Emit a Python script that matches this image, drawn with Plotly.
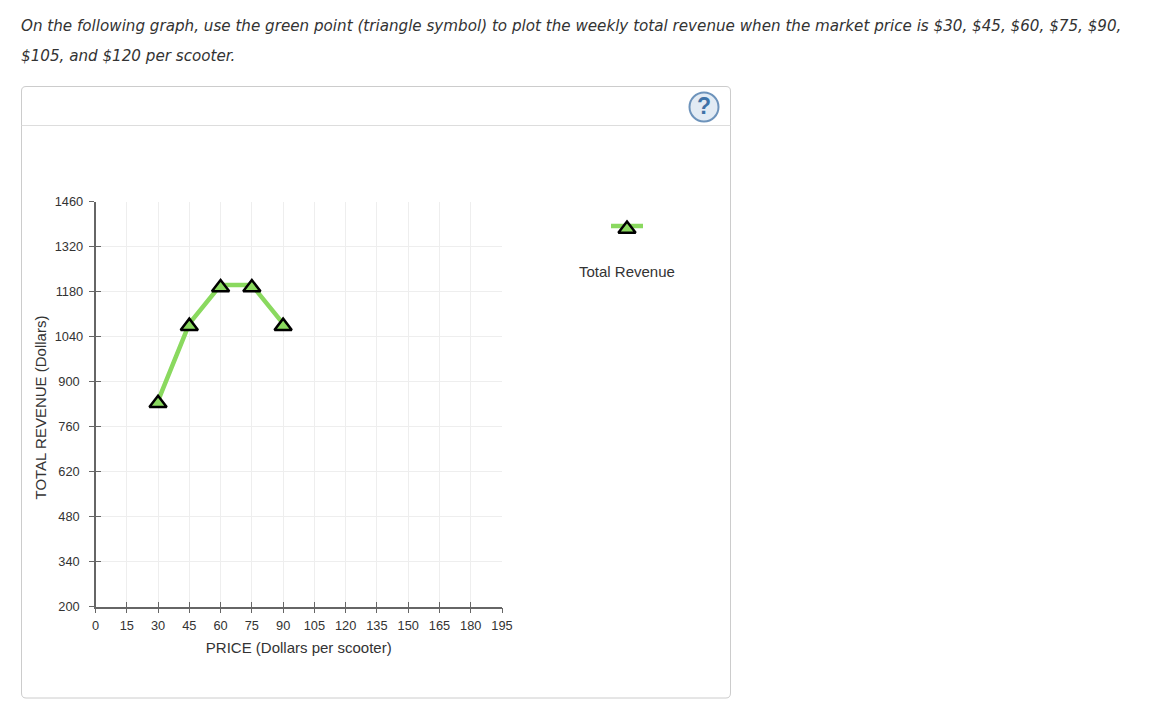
import plotly.graph_objects as go

W = 1156
H = 722

# data
price = [30, 45, 60, 75, 90]
revenue = [840, 1080, 1200, 1200, 1080]

x_ticks = [0, 15, 30, 45, 60, 75, 90, 105, 120, 135, 150, 165, 180, 195]
y_ticks = [200, 340, 480, 620, 760, 900, 1040, 1180, 1320, 1460]
y_labels = [str(v) if v >= 1000 else str(v) + "\u00a0" for v in y_ticks]

question = [
    "On the following graph, use the green point (triangle symbol) to plot the weekly total revenue when the market price is $30, $45, $60, $75, $90,",
    "$105, and $120 per scooter.",
]

GREEN = "#8ad95f"
AXIS = "#666666"
GRID = "#eeeeee"
TEXT = "#333333"
ARIAL = "Liberation Sans"

# plotly puts the point at the triangle's centroid, the original centres its box there
MARKER_DROP = 2.5 * 1260 / 405
MARKER = dict(symbol="triangle-up", size=15, color=GREEN, line=dict(color="black", width=2.5))


def px(x):
    return x / W


def py(y):
    return 1 - y / H


fig = go.Figure()

# the total revenue line
fig.add_trace(go.Scatter(
    x=price, y=revenue, mode="lines", cliponaxis=False, showlegend=False,
    line=dict(color=GREEN, width=4.5),
))

# invisible copy, only there so the second axes draw the inner half of the ticks
fig.add_trace(go.Scatter(
    x=price, y=revenue, xaxis="x2", yaxis="y2", mode="lines", opacity=0,
    showlegend=False, hoverinfo="skip",
))

# triangles, on a y axis moved by the marker drop
fig.add_trace(go.Scatter(
    x=price, y=revenue, yaxis="y4", mode="markers", cliponaxis=False, showlegend=False,
    marker=MARKER,
))

# legend key, on axes that count in pixels of the page
fig.add_trace(go.Scatter(
    x=[611, 643], y=[226, 226], xaxis="x3", yaxis="y3", mode="lines",
    line=dict(color=GREEN, width=4.5), showlegend=False, hoverinfo="skip",
))
fig.add_trace(go.Scatter(
    x=[627], y=[229], xaxis="x3", yaxis="y3", mode="markers",
    marker=MARKER, showlegend=False, hoverinfo="skip",
))

x_domain = [px(95.5), px(502)]
y_domain = [py(606.5), py(201.5)]

fig.update_layout(
    template="none",
    width=W, height=H,
    margin=dict(l=0, r=0, t=0, b=0),
    paper_bgcolor="white", plot_bgcolor="rgba(0,0,0,0)",
    showlegend=False,
    xaxis=dict(
        domain=x_domain, range=[0, 195], tickmode="array", tickvals=x_ticks, automargin=False,
        showgrid=True, gridcolor=GRID, gridwidth=1, zeroline=False,
        showline=True, linecolor=AXIS, linewidth=1.5,
        ticks="outside", ticklen=5, tickcolor=AXIS, tickwidth=1,
        tickfont=dict(family=ARIAL, size=12.8, color=TEXT),
        ticklabelstandoff=1,
        title=dict(text="PRICE (Dollars per scooter)", standoff=11,
                   font=dict(family=ARIAL, size=15, color=TEXT)),
    ),
    yaxis=dict(
        domain=y_domain, range=[200, 1460], tickmode="array", tickvals=y_ticks, ticktext=y_labels,
        automargin=False,
        showgrid=True, gridcolor=GRID, gridwidth=1, zeroline=False,
        showline=True, linecolor=AXIS, linewidth=1.5,
        ticks="outside", ticklen=5, tickcolor=AXIS, tickwidth=1,
        tickfont=dict(family=ARIAL, size=12.8, color=TEXT),
        ticklabelstandoff=3,
    ),
    xaxis2=dict(
        domain=x_domain, range=[0, 195], anchor="y2", overlaying="x", tickmode="array",
        tickvals=x_ticks, showticklabels=False, showgrid=False, zeroline=False, automargin=False,
        ticks="inside", ticklen=5, tickcolor=AXIS, tickwidth=1,
    ),
    yaxis2=dict(
        domain=y_domain, range=[200, 1460], anchor="x2", overlaying="y", tickmode="array",
        tickvals=y_ticks, showticklabels=False, showgrid=False, zeroline=False, automargin=False,
        ticks="inside", ticklen=5, tickcolor=AXIS, tickwidth=1,
    ),
    xaxis3=dict(domain=[0, 1], range=[0, W], anchor="y3", visible=False),
    yaxis3=dict(domain=[0, 1], range=[H, 0], anchor="x3", visible=False),
    yaxis4=dict(domain=y_domain, range=[200 + MARKER_DROP, 1460 + MARKER_DROP], anchor="x",
                overlaying="y", visible=False),
)

# panel around the graph, header rule and help icon
fig.add_shape(type="path", xref="paper", yref="paper", layer="below",
              path=f"M {px(26)} {py(86.5)} L {px(726)} {py(86.5)} Q {px(730.5)} {py(86.5)} {px(730.5)} {py(91)} "
                   f"L {px(730.5)} {py(693)} Q {px(730.5)} {py(698)} {px(726)} {py(698)} "
                   f"L {px(26)} {py(698)} Q {px(21.5)} {py(698)} {px(21.5)} {py(693)} "
                   f"L {px(21.5)} {py(91)} Q {px(21.5)} {py(86.5)} {px(26)} {py(86.5)} Z",
              line=dict(color="#cccccc", width=1))
fig.add_shape(type="line", xref="paper", yref="paper", layer="below",
              x0=px(21.5), x1=px(730.5), y0=py(125.5), y1=py(125.5),
              line=dict(color="#dddddd", width=1))
fig.add_shape(type="circle", xref="paper", yref="paper",
              x0=px(689.5), x1=px(718.5), y0=py(92.5), y1=py(121.5),
              fillcolor="#e2ebf4", line=dict(color="#6d93bb", width=2))
fig.add_annotation(x=px(704), y=py(106.5), xref="paper", yref="paper", xanchor="center", yanchor="middle",
                   text="<b>?</b>", showarrow=False, font=dict(family=ARIAL, size=23, color="#3f73a8"))

# y title as an annotation, it sits a little below the middle of the axis
fig.add_annotation(x=px(40), y=py(407.5), xref="paper", yref="paper", xanchor="center", yanchor="middle",
                   textangle=-90, text="TOTAL REVENUE (Dollars)", showarrow=False,
                   font=dict(family=ARIAL, size=15, color=TEXT))

# legend label
fig.add_annotation(x=px(627), y=py(272), xref="paper", yref="paper", xanchor="center", yanchor="middle",
                   text="Total Revenue", showarrow=False, font=dict(family=ARIAL, size=15, color=TEXT))

# question text above the panel
for line, y in zip(question, [26, 56]):
    fig.add_annotation(x=px(19), y=py(y), xref="paper", yref="paper", xanchor="left", yanchor="middle", text=line,
                       showarrow=False, font=dict(family="DejaVu Sans", size=15.15, color=TEXT, style="italic"))

fig.write_html("out.html", config=dict(displayModeBar=False), post_script="document.body.style.margin='0';")
